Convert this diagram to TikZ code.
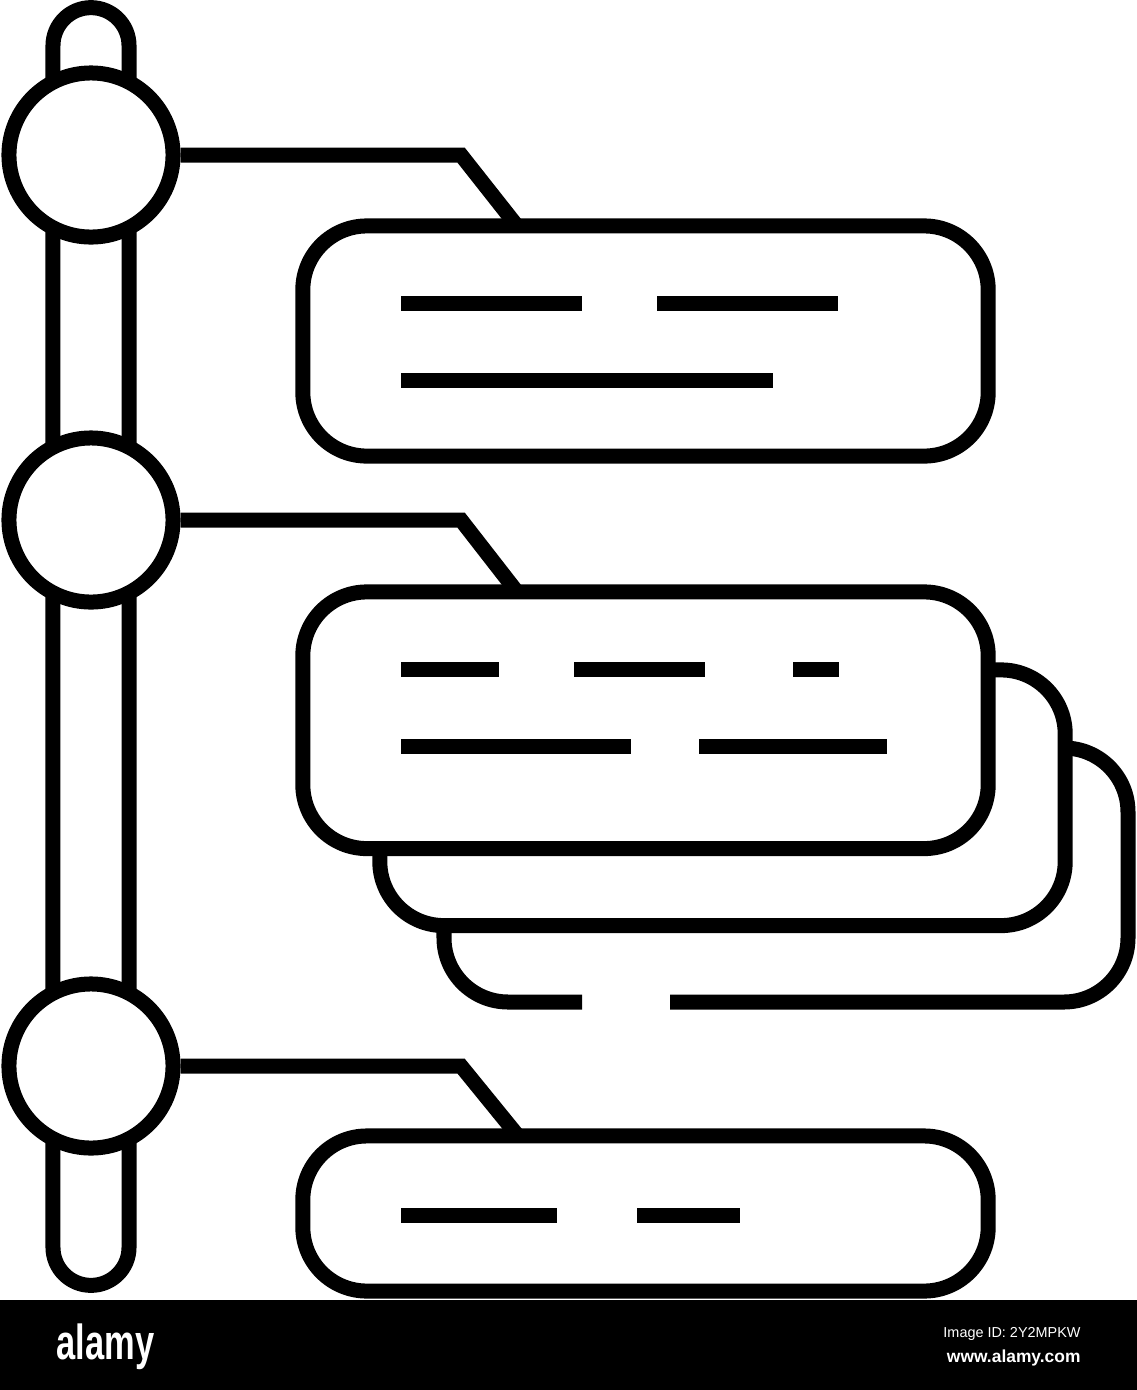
\documentclass[tikz,border=0pt]{standalone}
\usepackage{fontspec}
\setmainfont{Liberation Sans}
\begin{document}
\begin{tikzpicture}[x=0.01cm,y=-0.01cm,line width=0.15cm,
  dot/.style={circle,draw=black,fill=white,minimum size=1.64cm,inner sep=0pt,line width=0.15cm},
  card/.style={rectangle,rounded corners=0.64cm,draw=black,fill=white,inner sep=0pt,minimum width=6.85cm,line width=0.15cm},
  txt/.style={line cap=butt},
  link/.style={line join=miter}]
\useasboundingbox (0,0) rectangle (1137,1390);
% vertical rail
\node[draw=black,rounded corners=0.38cm,minimum width=0.76cm,minimum height=12.77cm,inner sep=0pt,line width=0.15cm] (rail) at (91,646.5) {};
% connector bends and ends
\coordinate (k1) at (461,155); \coordinate (t1) at (517,226);
\coordinate (k2) at (461,520); \coordinate (t2) at (517,592);
\coordinate (k3) at (461,1066); \coordinate (t3) at (518,1136);
% stack of cards (back to front)
\filldraw[draw=black,fill=white,rounded corners=0.64cm] (582,1002) -- (444,1002) -- (444,748) -- (1128,748) -- (1128,1002) -- (670,1002);
\node[card,minimum height=2.555cm] (s2) at (722.5,797.75) {};
\node[card,minimum height=2.565cm] (b2) at (645.5,720.25) {};
\node[card,minimum height=2.30cm] (b1) at (645.5,341) {};
\node[card,minimum height=1.55cm] (b3) at (645.5,1213.5) {};
% circles
\node[dot] (c1) at (91,155) {};
\node[dot] (c2) at (91,520) {};
\node[dot] (c3) at (91,1066) {};
\draw[link] (c1.east) -- (k1) -- (t1);
\draw[link] (c2.east) -- (k2) -- (t2);
\draw[link] (c3.east) -- (k3) -- (t3);
% text lines
\draw[txt] (401,303) -- (582,303);
\draw[txt] (657,303) -- (838,303);
\draw[txt] (401,380) -- (773,380);
\draw[txt] (401,669) -- (499,669);
\draw[txt] (574,669) -- (705,669);
\draw[txt] (793,669) -- (839,669);
\draw[txt] (401,746) -- (631,746);
\draw[txt] (699,746) -- (887,746);
\draw[txt] (401,1215) -- (557,1215);
\draw[txt] (637,1215) -- (740,1215);
% footer bar
\fill[black] (0,1300) rectangle (1137,1390);
\node[anchor=base west,inner sep=0pt,text=white,font=\fontsize{14pt}{15pt}\selectfont\bfseries] (logo) at (49,1359) {\scalebox{0.70}[1]{alamy}};
\node[anchor=base east,inner sep=0pt,text=white,font=\fontsize{4.1pt}{5pt}\selectfont] (imgid) at (1088,1337) {Image ID: 2Y2MPKW};
\node[anchor=base east,inner sep=0pt,text=white,font=\fontsize{4.95pt}{6pt}\selectfont\bfseries] (url) at (1088,1362) {www.alamy.com};
\end{tikzpicture}
\end{document}
